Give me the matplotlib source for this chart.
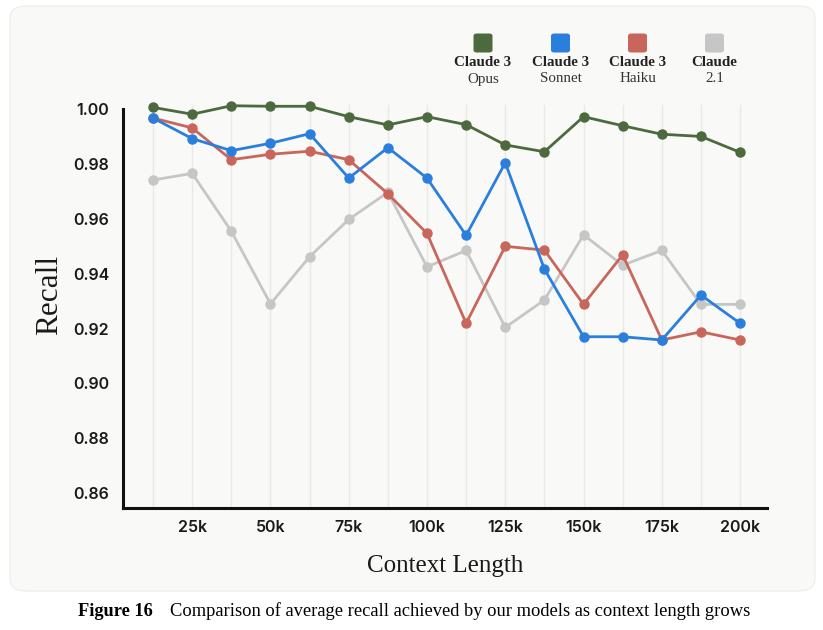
import matplotlib.pyplot as plt
from matplotlib.patches import FancyBboxPatch
import numpy as np

# context lengths (k tokens)
context_k = [12.5, 25, 37.5, 50, 62.5, 75, 87.5, 100, 112.5, 125, 137.5, 150, 162.5, 175, 187.5, 200]
tick_k = [25, 50, 75, 100, 125, 150, 175, 200]
tick_labels = ['25k', '50k', '75k', '100k', '125k', '150k', '175k', '200k']

opus = [1.0007, 0.9982, 1.0013, 1.0011, 1.0011, 0.9973, 0.9943, 0.9973,
        0.9944, 0.9870, 0.9845, 0.9973, 0.9940, 0.9909, 0.9901, 0.9843]
sonnet = [0.9968, 0.9893, 0.9849, 0.9876, 0.9911, 0.9749, 0.9860, 0.9749,
          0.9540, 0.9805, 0.9417, 0.9170, 0.9170, 0.9158, 0.9322, 0.9219]
haiku = [0.9968, 0.9932, 0.9816, 0.9836, 0.9847, 0.9816, 0.9692, 0.9547,
         0.9219, 0.9500, 0.9486, 0.9288, 0.9469, 0.9158, 0.9188, 0.9158]
claude21 = [0.9742, 0.9766, 0.9555, 0.9290, 0.9462, 0.9598, 0.9697, 0.9425,
            0.9485, 0.9204, 0.9304, 0.9542, 0.9431, 0.9485, 0.9288, 0.9288]

series = [
    ('Claude 3', 'Opus', opus, '#4d6a3e'),
    ('Claude 3', 'Sonnet', sonnet, '#2a7fdd'),
    ('Claude 3', 'Haiku', haiku, '#c9665b'),
    ('Claude', '2.1', claude21, '#c6c6c6'),
]
draw_order = [3, 2, 1, 0]  # grey at the back, green on top

W, H = 823, 630
fig = plt.figure(figsize=(W / 100, H / 100), dpi=100)
fig.patch.set_facecolor('white')

# rounded background panel
panel = FancyBboxPatch((10 / W, 1 - 591 / H), 805 / W, 585 / H,
                       boxstyle='round,pad=0,rounding_size=0.02',
                       transform=fig.transFigure, facecolor='#f9f9f7',
                       edgecolor='#ececea', linewidth=0.8, zorder=-5)
fig.patches.append(panel)

ax = fig.add_axes([123 / W, 1 - 508 / H, (767 - 123) / W, (508 - 109.3) / H])
ax.set_facecolor('none')
ax.set_zorder(2)

for i in draw_order:
    top, bottom, vals, col = series[i]
    ax.plot(context_k, vals, color=col, lw=2.0, marker='o', ms=6.5,
            clip_on=False, zorder=3 + (3 - i))

ax.set_xlim(2.9, 208.6)
ax.set_ylim(0.8545, 1.0)

# vertical gridlines at every context length
for x in context_k:
    ax.axvline(x, ymin=0, ymax=1.01, color='#e9e9e7', lw=1.0, zorder=1, clip_on=False)

ax.set_xticks(tick_k)
ax.set_xticklabels(tick_labels)
yt = [0.86, 0.88, 0.90, 0.92, 0.94, 0.96, 0.98, 1.00]
ax.set_yticks(yt)
ax.set_yticklabels(['%.2f' % v for v in yt])
ax.tick_params(length=0, labelsize=11.5, colors='#1a1a1a')
ax.tick_params(axis='y', pad=10)
ax.tick_params(axis='x', pad=9)
for lab in ax.get_xticklabels() + ax.get_yticklabels():
    lab.set_fontfamily('Inter')
    lab.set_fontweight('semibold')

for s in ['top', 'right']:
    ax.spines[s].set_visible(False)
for s in ['left', 'bottom']:
    ax.spines[s].set_linewidth(2.2)
    ax.spines[s].set_color('#111111')

ax.set_ylabel('Recall', fontfamily='Liberation Serif', fontsize=22.5, color='#1a1a1a')
ax.yaxis.set_label_coords(-(123 - 50) / (767 - 123), (508 - 295) / (508 - 109.3))
ax.yaxis.label.set_va('center')
ax.set_xlabel('Context Length', fontfamily='Liberation Serif', fontsize=18, labelpad=14, color='#1a1a1a')

# legend: rounded swatches with two-line labels
leg_x = [483, 560.5, 637.5, 714.5]
for (top, bottom, vals, col), cx in zip(series, leg_x):
    sw = FancyBboxPatch(((cx - 9.5) / W, 1 - 52.5 / H), 19 / W, 19 / H,
                        boxstyle='round,pad=0,rounding_size=0.004',
                        transform=fig.transFigure, facecolor=col, edgecolor='none')
    fig.patches.append(sw)
    fig.text(cx / W, 1 - 63 / H, top, ha='center', va='center', fontsize=10.8,
             fontfamily='Liberation Serif', fontweight='bold', color='#222222')
    fig.text(cx / W, 1 - 79 / H, bottom, ha='center', va='center', fontsize=10.8,
             fontfamily='Liberation Serif', color='#333333')

# caption
fig.text(78 / W, 1 - 611 / H, 'Figure 16', ha='left', va='center', fontsize=13.2,
         fontfamily='Liberation Serif', fontweight='bold')
fig.text(170 / W, 1 - 611 / H, 'Comparison of average recall achieved by our models as context length grows',
         ha='left', va='center', fontsize=13.3, fontfamily='Liberation Serif')

fig.savefig('out.png', dpi=100)
